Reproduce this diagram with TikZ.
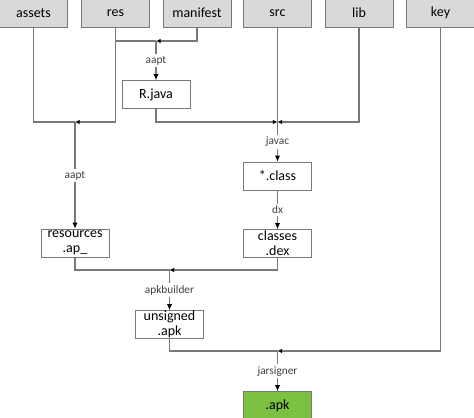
\documentclass[tikz,border=0pt]{standalone}
\usepackage{fontspec}
\setmainfont{Carlito}
\usetikzlibrary{arrows.meta}
\definecolor{boxgray}{RGB}{217,217,217}
\definecolor{linegray}{RGB}{120,120,120}
\definecolor{apkgreen}{RGB}{124,192,66}

\begin{document}
\begin{tikzpicture}[x=0.75pt,y=-0.75pt,
  srcbox/.style={draw=linegray,fill=boxgray,minimum width=51pt,minimum height=21pt,inner sep=0pt,font=\fontsize{10.5}{10.5}\selectfont},
  filebox/.style={draw=linegray,fill=white,minimum width=51pt,minimum height=21pt,inner sep=0pt,align=center,font=\fontsize{10.5}{11}\selectfont},
  wire/.style={draw=linegray,line width=0.9pt},
  tool/.style={wire,-{Latex[length=4.5pt,width=4pt,color=black]}},
  tip/.style={wire,-{Latex[length=3.5pt,width=3.5pt,color=black]}},
  lbl/.style={fill=white,inner sep=1.5pt,font=\fontsize{8.5}{9}\selectfont,text=black!75}]
\useasboundingbox (0,0) rectangle (474,417);

%inputs
\node[srcbox] (assets) at (33.5,13) {assets};
\node[srcbox] (res) at (115.5,13) {res};
\node[srcbox] (manifest) at (197,13) {manifest};
\node[srcbox] (src) at (277.5,13) {src};
\node[srcbox] (lib) at (359,13) {lib};
\node[srcbox] (key) at (440.5,13) {key};

%outputs
\node[filebox] (rjava) at (156,94.5) {R.java};
\node[filebox] (resap) at (75,243) {resources\\.ap\_};
\node[filebox] (class) at (277.5,176) {*.class};
\node[filebox] (dex) at (277.5,243.5) {classes\\.dex};
\node[filebox] (unsigned) at (169.5,324.5) {unsigned\\.apk};
\node[filebox,fill=apkgreen] (apk) at (277.5,405.5) {.apk};

%junctions
\coordinate (jr) at (156,41);
\coordinate (ja) at (75,122);
\coordinate (jc) at (277.5,122);
\coordinate (jb) at (169.5,270);
\coordinate (js) at (277.5,351);

%aapt -> R.java
\draw[tip] (manifest.south) |- (jr);
\draw[wire] (res.south) |- (jr);
\draw[tool] (jr) -- node[lbl] {aapt} (rjava.north);

%aapt -> resources.ap_
\draw[tip] (res.south) |- (ja);
\draw[wire] (assets.south) |- (ja);
\draw[tool] (ja) -- node[lbl] {aapt} (resap.north);

%javac
\draw[tip] (rjava.south) |- (jc);
\draw[tip] (lib.south) |- (jc);
\draw[wire] (src.south) -- (jc);
\draw[tool] (jc) -- node[lbl] {javac} (class.north);

%dx
\draw[tool] (class.south) -- node[lbl] {dx} (dex.north);

%apkbuilder
\draw[tip] (dex.south) |- (jb);
\draw[wire] (resap.south) |- (jb);
\draw[tool] (jb) -- node[lbl] {apkbuilder} (unsigned.north);

%jarsigner
\draw[tip] (key.south) |- (js);
\draw[wire] (unsigned.south) |- (js);
\draw[tool] (js) -- node[lbl] {jarsigner} (apk.north);
\end{tikzpicture}
\end{document}
